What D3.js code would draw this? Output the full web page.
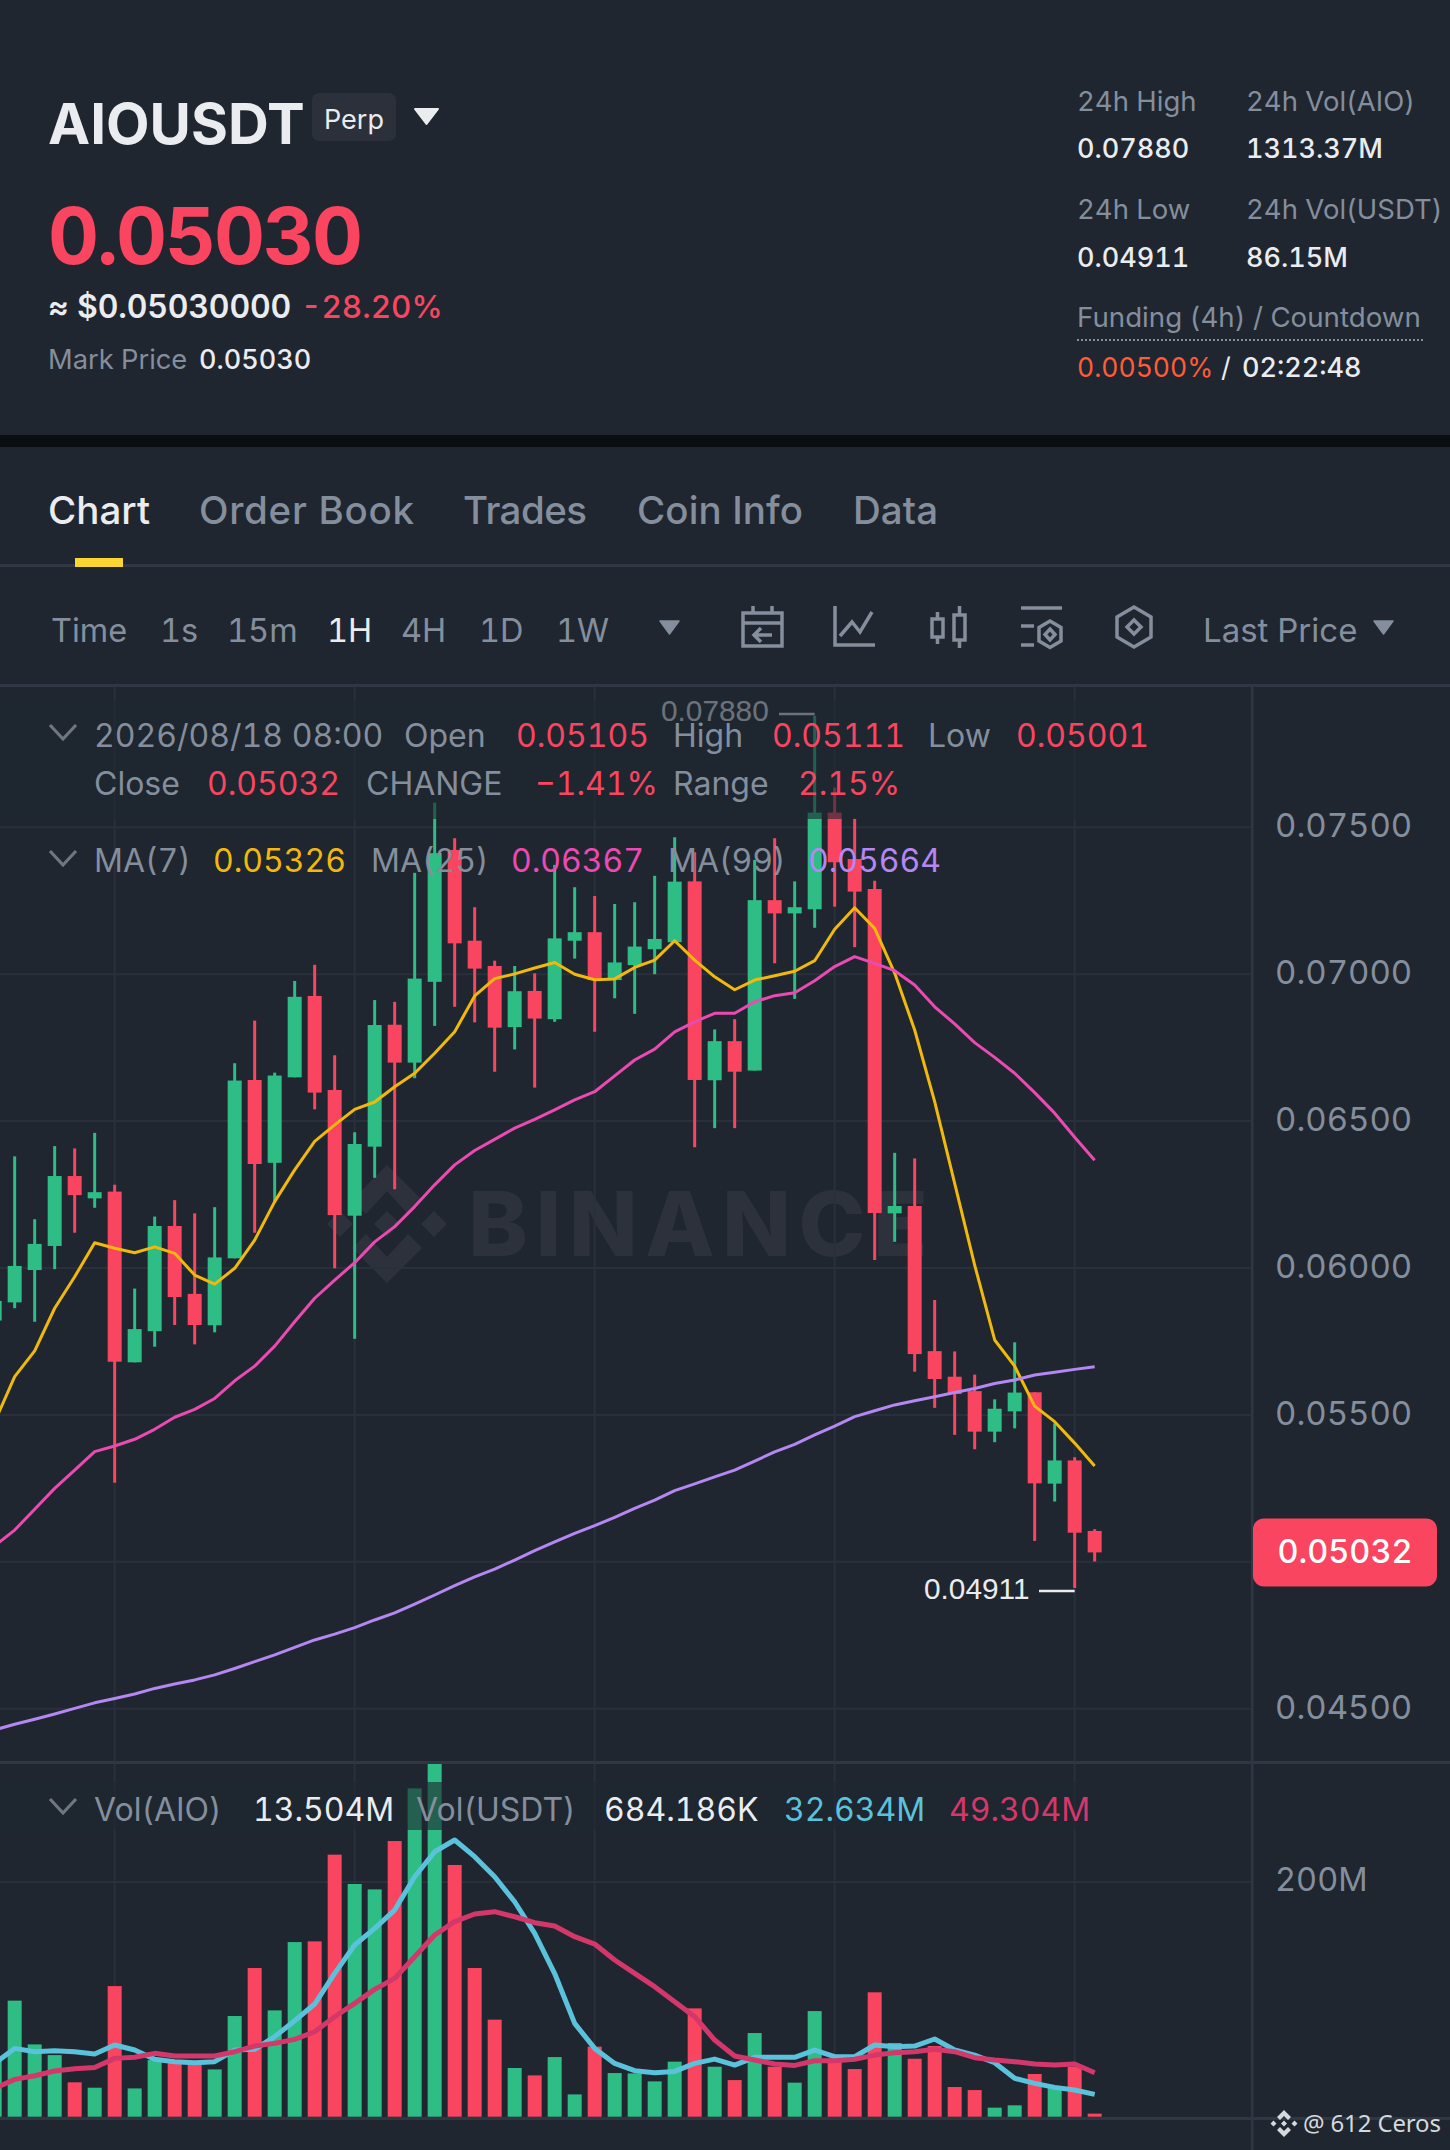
<!DOCTYPE html>
<html>
<head>
<meta charset="utf-8">
<script src="https://cdn.jsdelivr.net/npm/d3@7"></script>
<style>
html, body { margin: 0; padding: 0; background: #1f2630; }
svg { display: block; }
text { font-family: Inter, "Noto Sans", sans-serif; font-variant-numeric: tabular-nums; }
</style>
</head>
<body>
<div id="chart"></div>
<script>
// candles, oldest first (first one is cut off by the left edge)
var opens = [0.05821,0.05883,0.05993,0.06075,0.06313,0.06237,0.06260,0.05679,0.05785,0.06143,0.05912,0.05805,0.06033,0.06640,0.06358,0.06649,0.06926,0.06606,0.06178,0.06413,0.06828,0.06699,0.06974,0.07423,0.07114,0.07028,0.06820,0.06943,0.06847,0.07114,0.07143,0.06980,0.07031,0.07085,0.07109,0.07316,0.06639,0.06772,0.06672,0.07252,0.07207,0.07221,0.07550,0.07392,0.07290,0.06186,0.06211,0.05717,0.05630,0.05581,0.05443,0.05512,0.05577,0.05266,0.05345,0.05105];
var highs = [0.05925,0.06380,0.06166,0.06415,0.06407,0.06460,0.06283,0.05930,0.06175,0.06231,0.06186,0.06207,0.06697,0.06842,0.06665,0.06977,0.07032,0.06724,0.06462,0.06912,0.06906,0.07345,0.07584,0.07463,0.07228,0.07046,0.07028,0.07003,0.07372,0.07296,0.07266,0.07239,0.07245,0.07335,0.07466,0.07415,0.06812,0.06847,0.07389,0.07463,0.07316,0.07880,0.07635,0.07529,0.07318,0.06392,0.06373,0.05891,0.05716,0.05637,0.05553,0.05747,0.05577,0.05471,0.05356,0.05111];
var lows = [0.05789,0.05863,0.05817,0.05996,0.06120,0.06205,0.05269,0.05679,0.05732,0.05806,0.05740,0.05781,0.06033,0.06120,0.06221,0.06649,0.06540,0.05999,0.05759,0.06307,0.06268,0.06646,0.06824,0.06889,0.06836,0.06668,0.06744,0.06614,0.06838,0.07053,0.06804,0.06918,0.06865,0.07000,0.07109,0.06411,0.06476,0.06476,0.06672,0.07037,0.06916,0.07158,0.07230,0.07092,0.06027,0.06089,0.05647,0.05524,0.05432,0.05383,0.05407,0.05454,0.05071,0.05205,0.04911,0.05001];
var closes = [0.05888,0.06007,0.06082,0.06313,0.06248,0.06258,0.05681,0.05792,0.06143,0.05901,0.05806,0.06036,0.06638,0.06354,0.06655,0.06923,0.06597,0.06180,0.06422,0.06827,0.06699,0.06985,0.07412,0.07105,0.07019,0.06818,0.06942,0.06849,0.07122,0.07143,0.06980,0.07040,0.07094,0.07120,0.07315,0.06640,0.06772,0.06668,0.07252,0.07207,0.07228,0.07550,0.07381,0.07281,0.06187,0.06211,0.05707,0.05622,0.05571,0.05443,0.05521,0.05576,0.05267,0.05345,0.05099,0.05032];

var ma7 = [0.05476,0.05630,0.05718,0.05863,0.05970,0.06086,0.06067,0.06052,0.06072,0.06050,0.05976,0.05945,0.05999,0.06095,0.06226,0.06334,0.06431,0.06487,0.06540,0.06565,0.06617,0.06663,0.06731,0.06804,0.06926,0.06985,0.07001,0.07021,0.07040,0.07000,0.06981,0.06984,0.07023,0.07048,0.07114,0.07048,0.06991,0.06947,0.06980,0.06995,0.07010,0.07046,0.07153,0.07226,0.07156,0.07004,0.06810,0.06566,0.06288,0.06010,0.05755,0.05666,0.05530,0.05477,0.05404,0.05326];
var ma25 = [0.05054,0.05108,0.05179,0.05250,0.05312,0.05375,0.05394,0.05417,0.05451,0.05492,0.05519,0.05556,0.05616,0.05666,0.05734,0.05817,0.05897,0.05959,0.06018,0.06089,0.06141,0.06209,0.06283,0.06351,0.06400,0.06438,0.06476,0.06506,0.06538,0.06572,0.06600,0.06654,0.06708,0.06745,0.06804,0.06838,0.06867,0.06867,0.06906,0.06927,0.06937,0.06978,0.07026,0.07060,0.07037,0.07012,0.06963,0.06889,0.06831,0.06767,0.06717,0.06663,0.06597,0.06527,0.06445,0.06367];
var ma99 = [0.04428,0.04447,0.04464,0.04482,0.04501,0.04520,0.04535,0.04550,0.04569,0.04584,0.04598,0.04615,0.04637,0.04660,0.04683,0.04709,0.04734,0.04754,0.04776,0.04802,0.04826,0.04856,0.04887,0.04919,0.04949,0.04975,0.05006,0.05038,0.05068,0.05097,0.05123,0.05151,0.05182,0.05210,0.05242,0.05265,0.05289,0.05312,0.05343,0.05374,0.05400,0.05432,0.05462,0.05494,0.05514,0.05534,0.05548,0.05562,0.05576,0.05590,0.05607,0.05619,0.05636,0.05645,0.05655,0.05664];

// volume in millions
var volumes = [51,98.9,61.6,52.5,29.3,24.7,111.3,24.1,48.3,46.9,45.4,40.3,85.8,126.7,90.6,148.8,149.4,223.3,198.3,193.7,234.9,279.8,301.1,214.5,126.7,82.7,41.5,35.2,50.8,19,59.7,37.2,36.9,30.1,46.9,92.3,42.6,31.2,71.3,42.6,29,90,49.7,40.6,106,62.8,49.4,60.2,25.3,22.7,7.7,9.7,36.4,25.6,42.6,2.6];
var volFast = [45.4,58.2,55.4,56.2,55.4,53.4,61.1,56.8,48.9,46.9,46,46.9,56.8,57.4,68.2,81.8,96,122.1,146.3,160.5,176.1,204.5,225.8,235.8,221.6,204.5,183.2,156.2,122,79.5,58.2,45.4,39.2,37.5,38.6,45.4,49.1,44,50.6,50.6,50.6,56.8,51.1,51.1,61.1,59.7,60.2,66.2,56.8,52.5,46,32.7,28.4,25,22.7,19];
var volSlow = [24.1,31.8,34.9,38.9,40.9,42,49.7,50.6,54,51.7,51.7,51.7,55.4,60.2,62.5,65.9,72.4,85.2,96.6,108.5,117.9,136.3,154.8,166.2,172.7,174.7,170.4,165.3,162.5,153.4,147.1,133.5,122.1,110.8,98,85.2,65.3,51.7,48.3,44.9,43.7,47.7,47.7,48.9,52.5,54.5,55.4,57.4,55.4,50.3,48.3,46.9,44.9,44,44.9,37.5];

var priceTicks = [0.075, 0.07, 0.065, 0.06, 0.055, 0.05, 0.045];
var priceTickLabels = ["0.07500", "0.07000", "0.06500", "0.06000", "0.05500", "", "0.04500"];
var volTicks = [200];
var timeGrid = [6, 18, 30, 42, 54];
var lastPrice = 0.05032;

var red = "#f9455f", green = "#2ebd85", gray = "#848e9c", white = "#eaecef";
var bg = "#1f2630", grid = "#2a303b", rule = "#303744", watermark = "#2d313c";

var svg = d3.select("#chart").append("svg")
    .attr("width", 1450)
    .attr("height", 2150);

svg.append("rect").attr("width", 1450).attr("height", 2150).attr("fill", bg);

var xScale = d3.scaleLinear().domain([0, 55]).range([-5.33, 1094.67]);
var yPrice = d3.scaleLinear().domain([0.045, 0.075]).range([1708.7, 827.3]);
var yVol = d3.scaleLinear().domain([0, 200]).range([2116.7, 1882]);

function label(parent, x, y, str, size, color, weight, anchor) {
    return parent.append("text")
        .attr("x", x)
        .attr("y", y)
        .attr("font-size", size)
        .attr("font-weight", weight || 400)
        .attr("text-anchor", anchor || "start")
        .attr("fill", color)
        .text(str);
}

// ---- header ----
var head = svg.append("g");
head.append("rect").attr("x", 0).attr("y", 435).attr("width", 1450).attr("height", 12).attr("fill", "#0b0e11");

label(head, 48, 144, "AIOUSDT", 56.5, white, 700);
head.append("rect").attr("x", 312).attr("y", 93).attr("width", 84).attr("height", 48).attr("rx", 7).attr("fill", "#2b303b");
label(head, 324, 129, "Perp", 27, white);
head.append("path").attr("d", "M415,109 L438,109 L426.5,124 Z").attr("fill", white)
    .attr("stroke", white).attr("stroke-width", 2).attr("stroke-linejoin", "round");
label(head, 48, 264, "0.05030", 79, red, 700).attr("letter-spacing", -2.1);
label(head, 48, 318, "≈ $0.05030000", 32, white, 600).attr("letter-spacing", -0.15);
label(head, 301, 318, "-28.20%", 31.5, red, 500);
label(head, 48, 369, "Mark Price", 27.3, gray);
label(head, 199, 369, "0.05030", 27, white, 500);

label(head, 1077, 111, "24h High", 27.5, gray);
label(head, 1246, 111, "24h Vol(AIO)", 27.5, gray);
label(head, 1077, 158, "0.07880", 27, white, 500);
label(head, 1246, 158, "1313.37M", 27, white, 500);
label(head, 1077, 219, "24h Low", 27.5, gray);
label(head, 1246, 219, "24h Vol(USDT)", 27.5, gray);
label(head, 1077, 267, "0.04911", 27, white, 500);
label(head, 1246, 267, "86.15M", 27, white, 500);
label(head, 1077, 327, "Funding (4h) / Countdown", 27.7, gray);
head.append("line").attr("x1", 1077).attr("x2", 1423).attr("y1", 340).attr("y2", 340)
    .attr("stroke", gray).attr("stroke-width", 2).attr("stroke-dasharray", "2 2");
label(head, 1077, 377, "0.00500%", 26.5, "#ff5c39", 400);
label(head, 1221, 377, "/", 27, white);
label(head, 1242, 377, "02:22:48", 27, white, 500);

// ---- tabs ----
var tabNames = ["Chart", "Order Book", "Trades", "Coin Info", "Data"];
var tabX = [48, 199, 463, 637, 853];
var tabW = [102, 215, 124, 166, 85];
tabNames.forEach(function(t, i) {
    label(svg, tabX[i], 524, t, 38.5, i == 0 ? white : gray, 500).attr("textLength", tabW[i]);
});
svg.append("rect").attr("x", 0).attr("y", 564).attr("width", 1450).attr("height", 3).attr("fill", rule);
svg.append("rect").attr("x", 75).attr("y", 558).attr("width", 48).attr("height", 9).attr("fill", "#fcd535");

// ---- toolbar ----
var toolNames = ["Time", "1s", "15m", "1H", "4H", "1D", "1W"];
var toolX = [51, 160, 227, 327, 401, 479, 556];
toolNames.forEach(function(t, i) {
    label(svg, toolX[i], 642, t, 32.5, t == "1H" ? white : gray);
});
label(svg, 1203, 642, "Last Price", 33, gray);
svg.append("rect").attr("x", 0).attr("y", 684).attr("width", 1450).attr("height", 3).attr("fill", rule);

var icons = svg.append("g").attr("fill", "none").attr("stroke", gray).attr("stroke-width", 3.5);
[[660, 679], [1374, 1393]].forEach(function(p) {
    svg.append("path").attr("d", "M" + p[0] + ",621 L" + p[1] + ",621 L" + (p[0] + p[1]) / 2 + ",634 Z")
        .attr("fill", gray).attr("stroke", gray).attr("stroke-width", 1.5).attr("stroke-linejoin", "round");
});
// calendar
icons.append("path").attr("d", "M743,613 H782 V646 H743 Z M743,623 H782 M753,606 V613 M772,606 V613 M772,635 H755 M761,628 L754,635 L761,642");
// line chart
icons.append("path").attr("d", "M835,606 V645 H875 M840,636 L852,622 L860,632 L872,612");
// candles
icons.append("path").attr("d", "M932,619 H943 V637 H932 Z M954,615 H965 V640 H954 Z M937.5,612 V619 M937.5,637 V644 M959.5,606 V615 M959.5,640 V648");
// settings
icons.append("path").attr("d", "M1021,608 H1062 M1021,626 H1034 M1021,645 H1034 M1050,621 L1061,627.5 V641 L1050,647.5 L1039,641 V627.5 Z M1050,629 L1055,634.5 L1050,640 L1045,634.5 Z");
// hexagon
icons.append("path").attr("d", "M1134,607 L1151,617 V637 L1134,647 L1117,637 V617 Z M1134,620 L1141,627 L1134,634 L1127,627 Z");

// ---- watermark ----
var wm = svg.append("g").attr("transform", "translate(387,1224)").attr("fill", watermark);
wm.append("path").attr("d", "M0,-59 L35,-24 L21,-10 L0,-33 L-21,-10 L-35,-24 Z");
wm.append("path").attr("d", "M0,59 L35,24 L21,10 L0,33 L-21,10 L-35,24 Z");
wm.append("path").attr("d", "M0,-13 L13,0 L0,13 L-13,0 Z");
wm.append("path").attr("d", "M47,-13 L60,0 L47,13 L34,0 Z");
wm.append("path").attr("d", "M-47,-13 L-34,0 L-47,13 L-60,0 Z");
label(svg, 468, 1256, "BINANCE", 90, watermark, 800).attr("textLength", 460);

// ---- grid ----
var gridG = svg.append("g").attr("stroke", grid).attr("stroke-width", 2);
gridG.selectAll(".h").data(priceTicks).enter().append("line")
    .attr("x1", 0).attr("x2", 1251)
    .attr("y1", d => yPrice(d)).attr("y2", d => yPrice(d));
gridG.selectAll(".hv").data(volTicks).enter().append("line")
    .attr("x1", 0).attr("x2", 1251)
    .attr("y1", d => yVol(d)).attr("y2", d => yVol(d));
gridG.selectAll(".v").data(timeGrid).enter().append("line")
    .attr("x1", d => xScale(d)).attr("x2", d => xScale(d))
    .attr("y1", 687).attr("y2", 1761);
gridG.selectAll(".vv").data(timeGrid).enter().append("line")
    .attr("x1", d => xScale(d)).attr("x2", d => xScale(d))
    .attr("y1", 1763).attr("y2", 2117);

// ---- candles ----
var idx = d3.range(opens.length);
var colorOf = i => closes[i] >= opens[i] ? green : red;
var candles = svg.append("g");
candles.selectAll(".wick").data(idx).enter().append("line")
    .attr("x1", i => xScale(i)).attr("x2", i => xScale(i))
    .attr("y1", i => yPrice(highs[i])).attr("y2", i => yPrice(lows[i]))
    .attr("stroke", colorOf).attr("stroke-width", 3);
candles.selectAll(".body").data(idx).enter().append("rect")
    .attr("x", i => xScale(i) - 7)
    .attr("width", 14)
    .attr("y", i => yPrice(Math.max(opens[i], closes[i])))
    .attr("height", i => Math.abs(yPrice(opens[i]) - yPrice(closes[i])))
    .attr("fill", colorOf);

var priceLine = d3.line().x((d, i) => xScale(i)).y(d => yPrice(d));
[[ma7, "#f0b90b"], [ma25, "#ea4bb2"], [ma99, "#b587f2"]].forEach(function(s) {
    svg.append("path").datum(s[0]).attr("d", priceLine)
        .attr("fill", "none").attr("stroke", s[1]).attr("stroke-width", 3).attr("stroke-linejoin", "round");
});

// high / low markers
label(svg, 661, 721, "0.07880", 29.8, white).style("font-family", "'Liberation Sans'");
svg.append("line").attr("x1", 779).attr("x2", xScale(41)).attr("y1", 714).attr("y2", 714).attr("stroke", white).attr("stroke-width", 2.5);
label(svg, 924, 1599, "0.04911", 29.8, white).style("font-family", "'Liberation Sans'");
svg.append("line").attr("x1", 1039).attr("x2", xScale(54)).attr("y1", 1591).attr("y2", 1591).attr("stroke", white).attr("stroke-width", 2.5);

// legend block sits on a translucent panel over the candles
svg.append("rect").attr("x", 0).attr("y", 700).attr("width", 1160).attr("height", 119).attr("fill", bg).attr("opacity", 0.62);

function chevron(y) {
    svg.append("path").attr("d", "M50," + y + " L63," + (y + 14) + " L76," + y)
        .attr("fill", "none").attr("stroke", "#6f7682").attr("stroke-width", 3.2);
}
chevron(725);
chevron(851);

var legendRows = [
    [94, 747, "2026/08/18 08:00", gray], [404, 747, "Open", gray], [516, 747, "0.05105", red], [673, 747, "High", gray],
    [772, 747, "0.05111", red], [928, 747, "Low", gray], [1016, 747, "0.05001", red],
    [94, 795, "Close", gray], [207, 795, "0.05032", red], [366, 795, "CHANGE", gray], [535, 795, "−1.41%", red],
    [673, 795, "Range", gray], [798, 795, "2.15%", red],
    [94, 872, "MA(7)", gray], [213, 872, "0.05326", "#f0b90b"], [371, 872, "MA(25)", gray], [511, 872, "0.06367", "#ea4bb2"],
    [668, 872, "MA(99)", gray], [808, 872, "0.05664", "#b587f2"]
];
legendRows.forEach(function(r) { label(svg, r[0], r[1], r[2], 32, r[3]); });

// ---- volume panel ----
svg.append("g").selectAll("rect").data(idx).enter().append("rect")
    .attr("x", i => xScale(i) - 7)
    .attr("width", 14)
    .attr("y", i => yVol(volumes[i]))
    .attr("height", i => yVol(0) - yVol(volumes[i]))
    .attr("fill", colorOf);

var volLine = d3.line().x((d, i) => xScale(i)).y(d => yVol(d));
svg.append("path").datum(volFast).attr("d", volLine).attr("fill", "none")
    .attr("stroke", "#5bc2dc").attr("stroke-width", 5).attr("stroke-linejoin", "round");
svg.append("path").datum(volSlow).attr("d", volLine).attr("fill", "none")
    .attr("stroke", "#d4386a").attr("stroke-width", 5).attr("stroke-linejoin", "round");

svg.append("rect").attr("x", 0).attr("y", 1782).attr("width", 1095).attr("height", 48).attr("fill", bg).attr("opacity", 0.62);
chevron(1799);

label(svg, 94, 1821, "Vol(AIO)", 32, gray);
label(svg, 253, 1821, "13.504M", 32, white);
label(svg, 416, 1821, "Vol(USDT)", 32, gray);
label(svg, 604, 1821, "684.186K", 32, white);
label(svg, 784, 1821, "32.634M", 32, "#5bc2dc");
label(svg, 949, 1821, "49.304M", 32, "#d4386a");

// separators and right axis
svg.append("rect").attr("x", 0).attr("y", 1761).attr("width", 1450).attr("height", 3).attr("fill", rule);
svg.append("rect").attr("x", 0).attr("y", 2117).attr("width", 1450).attr("height", 3).attr("fill", rule);
svg.append("rect").attr("x", 1251).attr("y", 687).attr("width", 2.5).attr("height", 1463).attr("fill", rule);

var priceAxis = d3.axisRight(yPrice)
    .tickValues(priceTicks)
    .tickSize(0)
    .tickPadding(0)
    .tickFormat((d, i) => priceTickLabels[i]);
var priceAxisG = svg.append("g").attr("transform", "translate(1275,-1)").call(priceAxis);
priceAxisG.select(".domain").remove();
priceAxisG.selectAll("text").attr("font-size", 33).attr("font-family", "Inter").attr("fill", gray);

var volAxis = d3.axisRight(yVol).tickValues(volTicks).tickSize(0).tickPadding(0).tickFormat(d => d + "M");
var volAxisG = svg.append("g").attr("transform", "translate(1275,-1.5)").call(volAxis);
volAxisG.select(".domain").remove();
volAxisG.selectAll("text").attr("font-size", 32.5).attr("font-family", "Inter").attr("fill", gray);

// last price badge
svg.append("rect").attr("x", 1253).attr("y", yPrice(lastPrice) - 34).attr("width", 184).attr("height", 68).attr("rx", 11).attr("fill", red);
label(svg, 1345, yPrice(lastPrice) + 11, d3.format(".5f")(lastPrice), 32.5, "#ffffff", 500, "middle");

// footer tag
var tag = svg.append("g").attr("transform", "translate(1284,2123.5)").attr("fill", "#d5d8dc");
tag.append("path").attr("d", "M0,-13.5 L7,-6.5 L4,-3.5 L0,-7.5 L-4,-3.5 L-7,-6.5 Z");
tag.append("path").attr("d", "M0,13.5 L7,6.5 L4,3.5 L0,7.5 L-4,3.5 L-7,6.5 Z");
tag.append("path").attr("d", "M0,-3 L3,0 L0,3 L-3,0 Z M10.5,-3 L13.5,0 L10.5,3 L7.5,0 Z M-10.5,-3 L-7.5,0 L-10.5,3 L-13.5,0 Z");
label(svg, 1303, 2132, "@ 612 Ceros", 24, "#d5d8dc").style("font-family", "'Noto Sans'").attr("textLength", 138);
</script>
</body>
</html>
